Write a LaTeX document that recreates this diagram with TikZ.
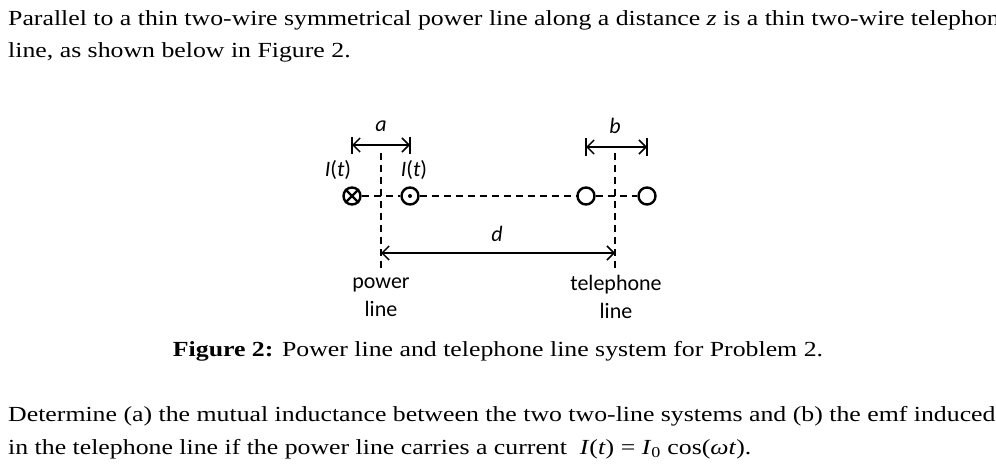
\documentclass[tikz,border=0pt]{standalone}
\usetikzlibrary{arrows.meta}
\usepackage{fontspec}
\setmainfont{Liberation Serif}
\newfontfamily\diag{Carlito}
\newcommand{\wide}[1]{\scalebox{1.2}[1]{#1}}
\begin{document}
\begin{tikzpicture}[x=1pt,y=-1pt,
  txt/.style={font=\fontsize{21.5}{25}\selectfont,inner sep=0pt,anchor=west},
  lab/.style={font=\diag\fontsize{22}{26}\selectfont,inner sep=0pt},
  ilab/.style={font=\diag\itshape\fontsize{22}{26}\selectfont,inner sep=0pt},
  wire/.style={circle,draw,line width=2.4pt,minimum size=17pt,inner sep=0pt},
  dsh/.style={dashed,line width=1.5pt,dash pattern=on 7pt off 5pt},
  dim/.style={line width=1.5pt,{Straight Barb[length=7pt]}-{Straight Barb[length=7pt]}},
  tick/.style={line width=1.8pt}]
\useasboundingbox (0,0) rectangle (996,470);
\node[txt] (t1) at (8,20) {\wide{Parallel to a thin two-wire symmetrical power line along a distance \textit{z} is a thin two-wire telephone}};
\node[txt] (t2) at (8,52) {\wide{line, as shown below in Figure 2.}};
% wires
\node[wire] (p1) at (352,196) {};
\draw[line width=2.4pt] (p1.north east)--(p1.south west) (p1.north west)--(p1.south east);
\node[wire] (p2) at (410,196) {};
\fill (p2) circle (2pt);
\node[wire] (q1) at (586,196) {};
\node[wire] (q2) at (647,196) {};
\draw[dsh] (p1.east)--(p2.west) (p2.east)--(q1.west) (q1.east)--(q2.west);
\coordinate (pt) at (381,153); \coordinate (pb) at (381,268);
\coordinate (qt) at (615,153); \coordinate (qb) at (615,268);
\draw[dsh] (pt)--(pb); \draw[dsh] (qt)--(qb);
% a
\coordinate (a1) at (352,145); \coordinate (a2) at (410,145);
\draw[tick] (352,137)--(352,154) (410,137)--(410,154);
\draw[dim] (a1)--(a2);
\node[ilab] (la) at (381,126) {a};
% b
\coordinate (b1) at (586,147); \coordinate (b2) at (647,147);
\draw[tick] (586,138)--(586,156) (647,138)--(647,156);
\draw[dim] (b1)--(b2);
\node[ilab] (lb) at (615,126) {b};
% d
\coordinate (d1) at (381,253); \coordinate (d2) at (615,253);
\draw[dim] (d1)--(d2);
\node[ilab] (ld) at (497,234) {d};
\node[lab] (i1) at (338,170) {\textit{I}(\textit{t})};
\node[lab] (i2) at (414,170) {\textit{I}(\textit{t})};
\node[lab,align=center,font=\diag\fontsize{22}{28}\selectfont] (pl) at (381,297) {power\\line};
\node[lab,align=center,font=\diag\fontsize{22}{28}\selectfont] (tl) at (616,297) {telephone\\line};
\node[txt,anchor=center] (cap) at (498,351) {\wide{\textbf{Figure 2:} Power line and telephone line system for Problem 2.}};
\node[txt] (t3) at (8,416) {\wide{Determine (a) the mutual inductance between the two two-line systems and (b) the emf induced}};
\node[txt] (t4) at (8,449) {\wide{in the telephone line if the power line carries a current \ \textit{I}(\textit{t}) = \textit{I}\textsubscript{0} cos(\textit{ωt}).}};
\end{tikzpicture}
\end{document}
